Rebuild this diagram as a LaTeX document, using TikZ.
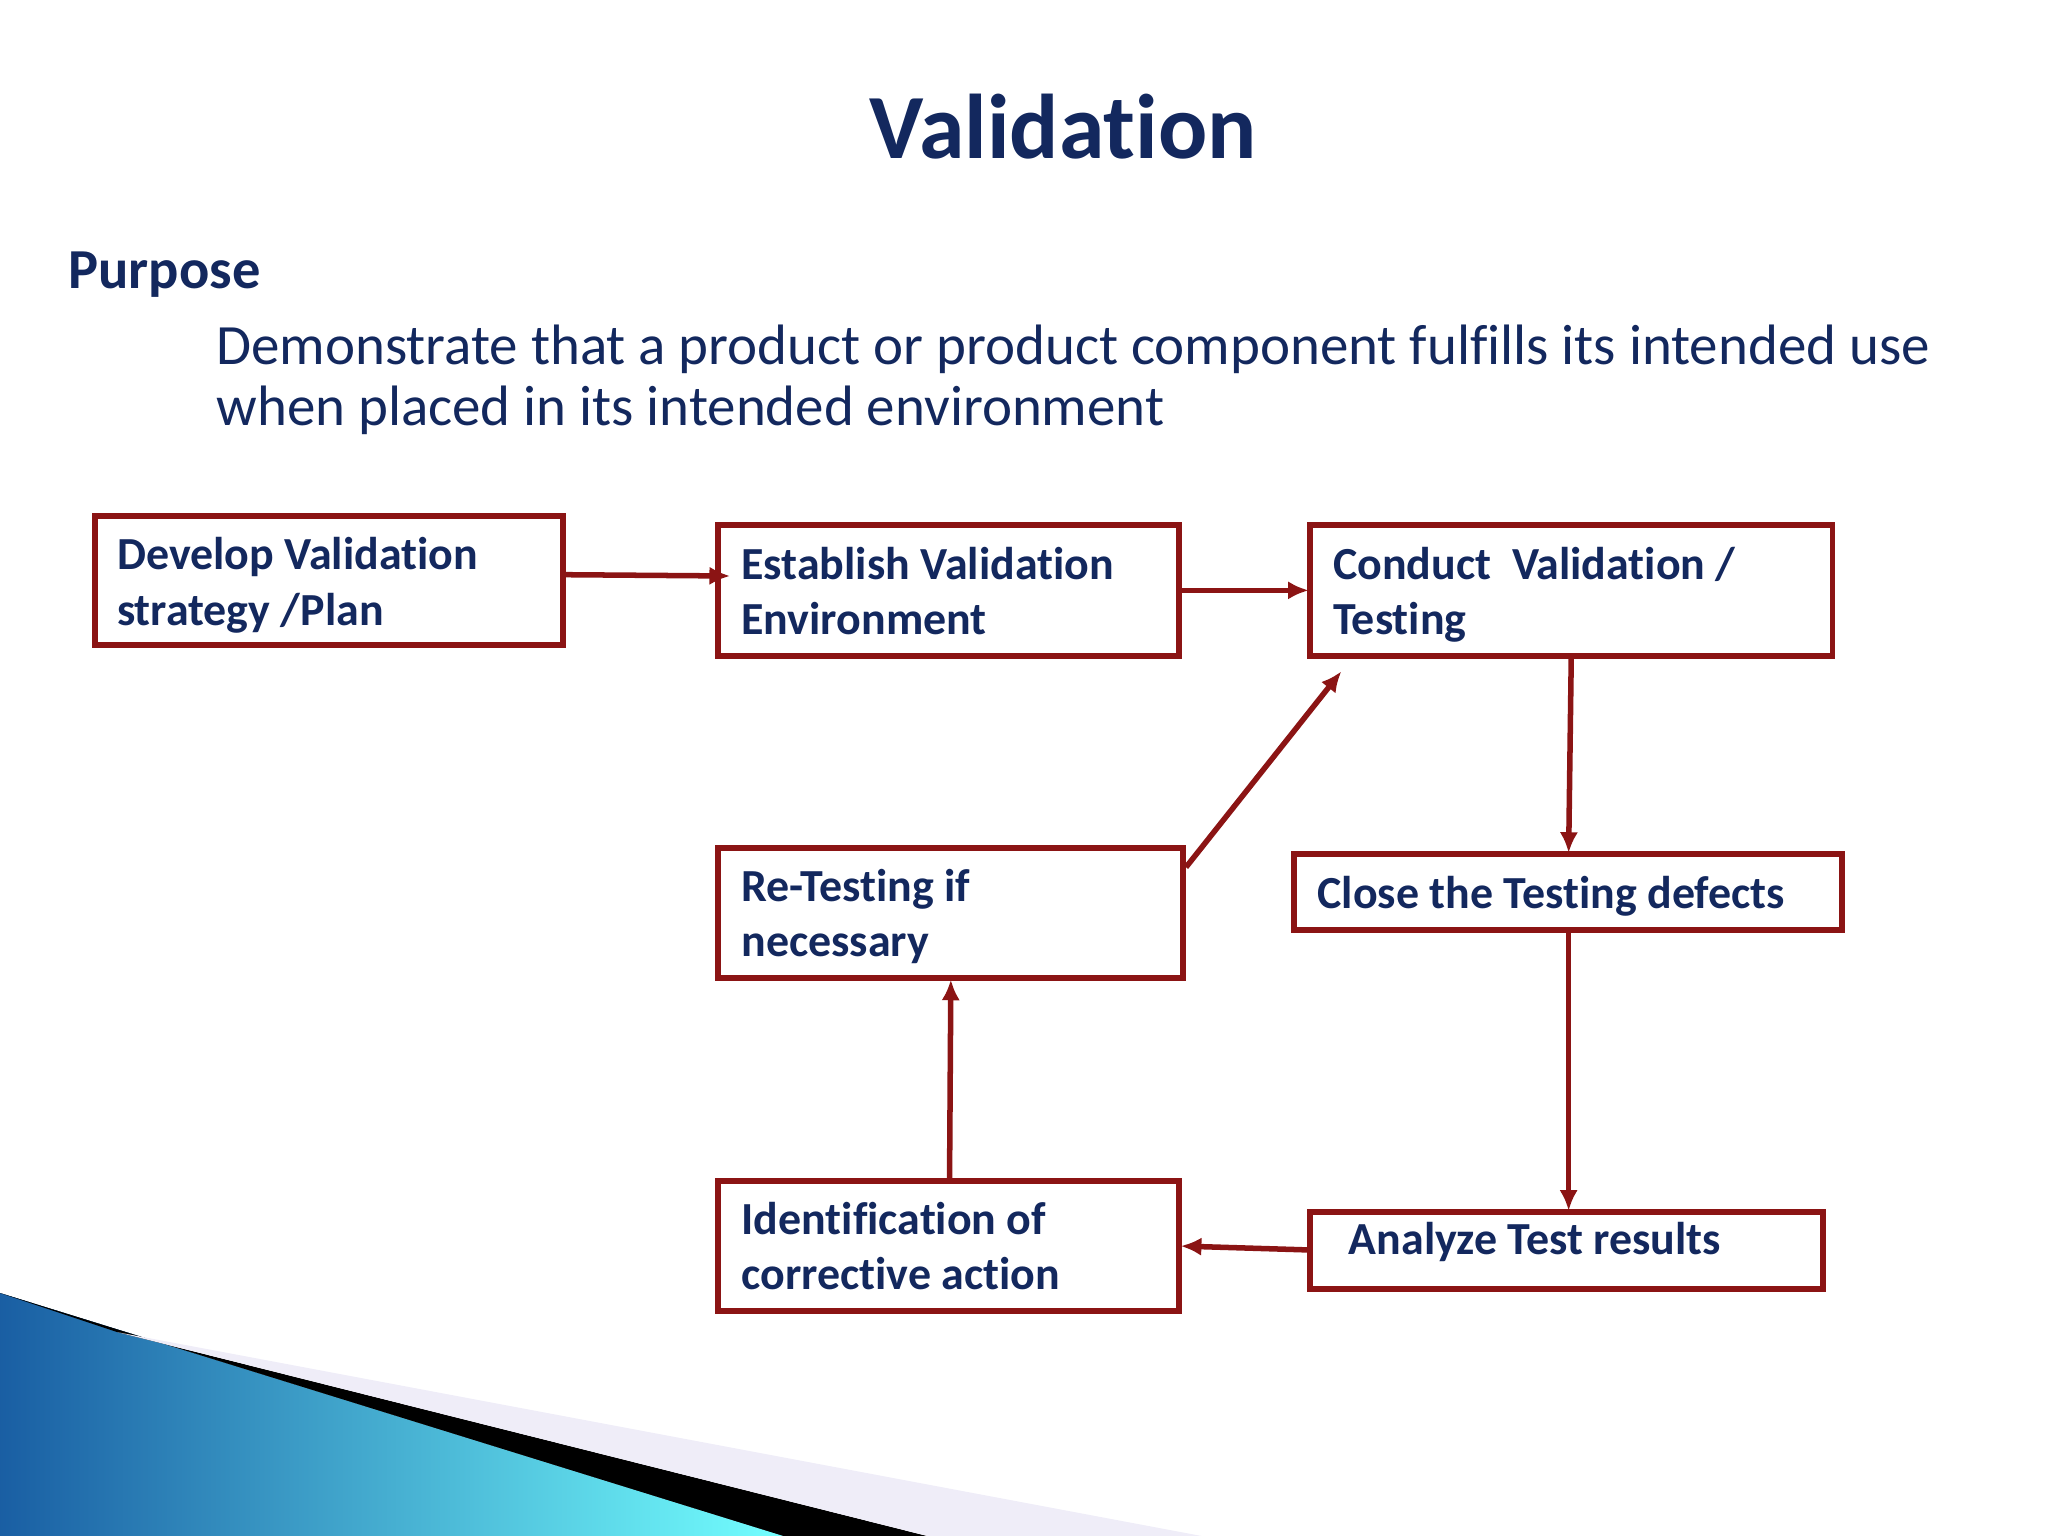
\documentclass[tikz,border=0pt]{standalone}
\usepackage{fontspec}
\setmainfont{Carlito}[Ligatures=NoCommon]
\usetikzlibrary{arrows.meta}
\begin{document}
\begin{tikzpicture}[x=0.01cm,y=-0.01cm,
  box/.style={draw=boxred,line width=1.3pt},
  lbl/.style={anchor=north west,inner sep=0pt,text=navy,font=\bfseries\fontsize{10}{12}\selectfont,align=left},
  arr/.style={draw=boxred,line width=1.2pt,-{Latex[length=4.5pt,width=4pt]}}]
\definecolor{boxred}{HTML}{8B1414}
\definecolor{navy}{HTML}{13285E}
\useasboundingbox (0,0) rectangle (1568,1176);
% decoration
\fill[left color=cyan!50!blue!60!black!90, right color=cyan!55!white] (0,990) -- (600,1176) -- (0,1176) -- cycle;
\fill[black] (0,990) -- (90,1020) -- (710,1176) -- (600,1176) -- cycle;
\fill[cyan!12!blue!6!white] (90,1020) -- (920,1176) -- (710,1176) -- cycle;
% title
\node[text=navy,font=\bfseries\fontsize{20}{24}\selectfont] (title) at (814,97) {Validation};
\node[anchor=west,text=navy,font=\bfseries\fontsize{12.3}{14}\selectfont] (purp) at (40,210) {Purpose};
\node[anchor=north west,text=navy,font=\fontsize{12.4}{13.4}\selectfont,align=left,inner sep=0pt] (desc) at (165,248)
 {Demonstrate that a product or product component fulfills its intended use\\when placed in its intended environment};
% boxes
\draw[box] (73,395) rectangle (431,494); \node[lbl] (a) at (89,411) {Develop Validation\\strategy /Plan};
\draw[box] (550,402) rectangle (903,502); \node[lbl] (b) at (567,418) {Establish Validation\\Environment};
\draw[box] (1003,402) rectangle (1403,502); \node[lbl] (c) at (1020,418) {Conduct\ \ Validation /\\Testing};
\draw[box] (991,654) rectangle (1410,712); \node[lbl] (d) at (1008,670) {Close the Testing defects};
\draw[box] (550,649) rectangle (906,749); \node[lbl] (e) at (567,665) {Re-Testing if\\necessary};
\draw[box] (550,904) rectangle (903,1004); \node[lbl] (f) at (567,920) {Identification of\\corrective action};
\draw[box] (1003,928) rectangle (1396,987); \node[lbl] (g) at (1032,935) {Analyze Test results};
% connectors
\coordinate (a1) at (432,440); \coordinate (b1) at (559,441);
\draw[arr] (a1) -- (b1);
\coordinate (b2) at (904,452); \coordinate (c1) at (1002,452);
\draw[arr] (b2) -- (c1);
\coordinate (c2) at (1203,503); \coordinate (d1) at (1201,653);
\draw[arr] (c2) -- (d1);
\coordinate (d2) at (1201,713); \coordinate (g1) at (1201,927);
\draw[arr] (d2) -- (g1);
\coordinate (g2) at (1002,957); \coordinate (f1) at (904,954);
\draw[arr] (g2) -- (f1);
\coordinate (f2) at (727,903); \coordinate (e1) at (728,750);
\draw[arr] (f2) -- (e1);
\coordinate (e2) at (908,664); \coordinate (cc) at (1027,514);
\draw[arr] (e2) -- (cc);
\end{tikzpicture}
\end{document}
